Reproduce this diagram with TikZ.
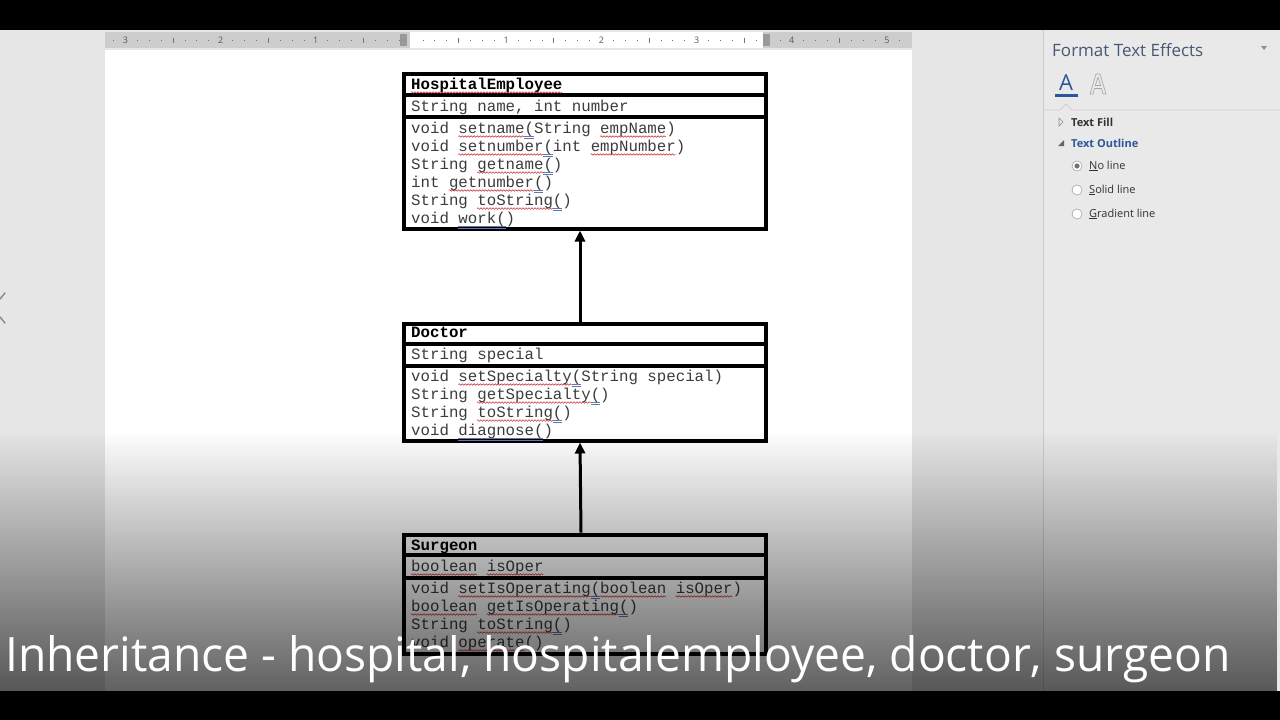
\documentclass[tikz,border=0pt]{standalone}
\usepackage{fontspec}
\setmonofont{Liberation Mono}
\newfontfamily\uifont{Open Sans}
\usetikzlibrary{arrows.meta,decorations.pathmorphing,fadings}
\definecolor{bggray}{RGB}{230,230,230}
\definecolor{panelgray}{RGB}{233,233,233}
\definecolor{rulergray}{RGB}{205,205,205}
\definecolor{codegray}{RGB}{60,60,60}
\definecolor{titleblue}{RGB}{72,88,115}
\definecolor{wordblue}{RGB}{43,87,154}
\definecolor{darktext}{RGB}{50,50,50}
\definecolor{sqred}{RGB}{200,40,40}
\definecolor{sqblue}{RGB}{100,120,175}
\tikzfading[name=capfade, top color=transparent!100, bottom color=transparent!0]
\tikzset{
  comp/.style={rectangle, draw=black, line width=4pt, fill=white, minimum width=362pt, inner sep=0pt},
  code/.style={anchor=base west, inner sep=0pt, font={\fontsize{15.75}{18}\selectfont\ttfamily}, text=codegray},
  cname/.style={anchor=base west, inner sep=0pt, font={\fontsize{15.75}{18}\selectfont\ttfamily\bfseries}, text=black},
  inh/.style={line width=3pt, -{Triangle[length=11pt,width=10pt]}},
  redsq/.style={draw=sqred, line width=0.5pt, decorate, decoration={snake, amplitude=0.8pt, segment length=3pt}},
  bluesq/.style={draw=sqblue, line width=0.45pt},
  rulnum/.style={inner sep=0pt, font={\uifont\fontsize{9}{9}\selectfont}, text=black!65},
  rultick/.style={draw=black!55, line width=0.8pt},
  panlab/.style={anchor=west, inner sep=0pt, font={\uifont\fontsize{11}{13}\selectfont}, text=darktext},
  radio/.style={circle, draw=black!35, fill=white, minimum size=10pt, inner sep=0pt, line width=0.6pt}
}
\newcommand\redw[3]{\draw[redsq] ({411+#2*9.45},{#1+3.5}) -- ({411+(#2+#3)*9.45},{#1+3.5});}
\newcommand\bluew[3]{\draw[bluesq] ({411+#2*9.45},{#1+3}) -- ({411+(#2+#3)*9.45},{#1+3});
  \draw[bluesq] ({411+#2*9.45},{#1+5}) -- ({411+(#2+#3)*9.45},{#1+5});}
\begin{document}
\begin{tikzpicture}[x=1pt,y=-1pt]
\useasboundingbox (0,0) rectangle (1280,720);
% background
\fill[bggray] (0,0) rectangle (1280,720);
\fill[panelgray] (1043,30) rectangle (1280,691);
\draw[black!20, line width=0.8pt] (1043,30) -- (1043,691);
% page
\fill[white] (105,50) rectangle (912,691);
% ruler
\fill[rulergray] (105,32) rectangle (912,48);
\fill[white] (410,32) rectangle (763,48);
\foreach \k in {-25,...,41}{
  \pgfmathsetmacro\xx{411+\k*11.9}
  \pgfmathtruncatemacro\m{mod(abs(\k),8)}
  \pgfmathtruncatemacro\n{abs(\k)/8}
  \ifnum\k=0\relax\else
    \ifnum\m=0\relax \node[rulnum] (r\k) at (\xx,40) {\n};
    \else\ifnum\m=4\relax \draw[rultick] (\xx,37.5) -- (\xx,42.5);
    \else \draw[rultick] (\xx,39.6) -- (\xx,40.6);
    \fi\fi
  \fi
}
\fill[black!40] (400,34) rectangle (407,46);
\fill[black!40] (763,34) rectangle (770,46);
% left partial icon
\draw[black!45, line width=1.5pt, line cap=round] (0,299) -- (5,293);
\draw[black!45, line width=1.5pt, line cap=round] (0,317) -- (5,323);
% ---------- HospitalEmployee ----------
\node[comp, minimum height=111.5pt] (hemeth) at (585,172.75) {};
\node[comp, minimum height=21.7pt] (heattr) at (585,106.15) {};
\node[comp, minimum height=21.8pt] (hename) at (585,84.4) {};
\node[cname] (hen) at (411,89) {HospitalEmployee};
\node[code] (hea) at (411,111) {String name, int number};
\node[code] (hem1) at (411,133) {void setname(String empName)};
\node[code] (hem2) at (411,151) {void setnumber(int empNumber)};
\node[code] (hem3) at (411,169) {String getname()};
\node[code] (hem4) at (411,187) {int getnumber()};
\node[code] (hem5) at (411,205) {String toString()};
\node[code] (hem6) at (411,223) {void work()};
\redw{89}{0}{16}
\redw{133}{5}{7}\bluew{133}{12}{1}\redw{133}{20}{7}
\redw{151}{5}{9}\bluew{151}{14}{1}\redw{151}{19}{9}
\redw{169}{7}{7}\bluew{169}{14}{1}
\redw{187}{4}{9}\bluew{187}{13}{1}
\redw{205}{7}{8}\bluew{205}{15}{1}
\bluew{223}{5}{5}
% ---------- Doctor ----------
\node[comp, minimum height=75pt] (docmeth) at (585,403) {};
\node[comp, minimum height=22pt] (docattr) at (585,354.5) {};
\node[comp, minimum height=20pt] (docname) at (585,333.5) {};
\node[cname] (docn) at (411,337) {Doctor};
\node[code] (doca) at (411,359) {String special};
\node[code] (docm1) at (411,381) {void setSpecialty(String special)};
\node[code] (docm2) at (411,399) {String getSpecialty()};
\node[code] (docm3) at (411,417) {String toString()};
\node[code] (docm4) at (411,435) {void diagnose()};
\redw{381}{5}{12}\bluew{381}{17}{1}
\redw{399}{7}{12}\bluew{399}{19}{1}
\redw{417}{7}{8}\bluew{417}{15}{1}
\bluew{435}{5}{9}
% ---------- Surgeon ----------
\node[comp, minimum height=75.5pt] (surmeth) at (585,615.75) {};
\node[comp, minimum height=23pt] (surattr) at (585,566.5) {};
\node[comp, minimum height=20.3pt] (surname) at (585,544.85) {};
\node[cname] (surn) at (411,550) {Surgeon};
\node[code] (sura) at (411,571) {boolean isOper};
\node[code] (surm1) at (411,593) {void setIsOperating(boolean isOper)};
\node[code] (surm2) at (411,611) {boolean getIsOperating()};
\node[code] (surm3) at (411,629) {String toString()};
\node[code] (surm4) at (411,647) {void operate()};
\redw{571}{0}{7}\redw{571}{8}{6}
\redw{593}{5}{14}\bluew{593}{19}{1}\redw{593}{20}{7}\redw{593}{28}{6}
\redw{611}{0}{7}\redw{611}{8}{14}\bluew{611}{22}{1}
\redw{629}{7}{8}\bluew{629}{15}{1}
\redw{647}{5}{7}
% ---------- inheritance arrows ----------
\draw[inh] ([xshift=-5pt]docname.north) -- ([xshift=-5pt]hemeth.south);
\draw[inh] ([xshift=-4pt]surname.north) -- ([xshift=-5pt]docmeth.south);
% ---------- right panel ----------
\node[anchor=west, inner sep=0pt, font={\uifont\fontsize{17}{20}\selectfont}, text=titleblue] (ptitle) at (1052,50) {Format Text Effects};
\fill[black!45] (1261,46) -- (1267,46) -- (1264,50) -- cycle;
\node[inner sep=0pt, font={\uifont\fontsize{22}{22}\selectfont}, text=wordblue] (afill) at (1066,83) {A};
\fill[wordblue] (1055,94) rectangle (1078,97);
\draw[black!35, line width=0.6pt, line join=round] (1090,94) -- (1096,74) -- (1100,74) -- (1106,94) -- (1103,94) -- (1101.5,88.5) -- (1094.5,88.5) -- (1093,94) -- cycle;
\draw[black!35, line width=0.6pt, line join=round] (1095.3,85.5) -- (1098,77) -- (1100.7,85.5) -- cycle;
\draw[black!18, line width=0.8pt] (1043,110) -- (1060,110) -- (1066,104) -- (1072,110) -- (1280,110);
\draw[black!45, line width=0.6pt] (1059,118) -- (1063,122) -- (1059,126) -- cycle;
\node[panlab, font={\uifont\bfseries\fontsize{11}{13}\selectfont}] (tfill) at (1071,122) {Text Fill};
\fill[black!60] (1064,140) -- (1064,146) -- (1058,146) -- cycle;
\node[panlab, font={\uifont\bfseries\fontsize{11}{13}\selectfont}, text=wordblue] (toutl) at (1071,143) {Text Outline};
\node[radio] (rad1) at (1077,166) {};
\fill[black!55] (rad1) circle (2.6pt);
\node[radio] (rad2) at (1077,190) {};
\node[radio] (rad3) at (1077,214) {};
\node[panlab] (lab1) at (1089,166) {\underline{N}o line};
\node[panlab] (lab2) at (1089,190) {\underline{S}olid line};
\node[panlab] (lab3) at (1089,214) {\underline{G}radient line};
% ---------- bottom gradient overlay ----------
\fill[black, fill opacity=0.62, path fading=capfade] (0,430) rectangle (1280,691);
% black bars
\fill[black] (0,0) rectangle (1280,30);
\fill[black] (0,691) rectangle (1280,720);
% caption
\node[anchor=base west, inner sep=0pt, text=white] (caption) at (5,671) {\resizebox{1225pt}{36pt}{\uifont Inheritance - hospital, hospitalemployee, doctor, surgeon}};
\end{tikzpicture}
\end{document}
